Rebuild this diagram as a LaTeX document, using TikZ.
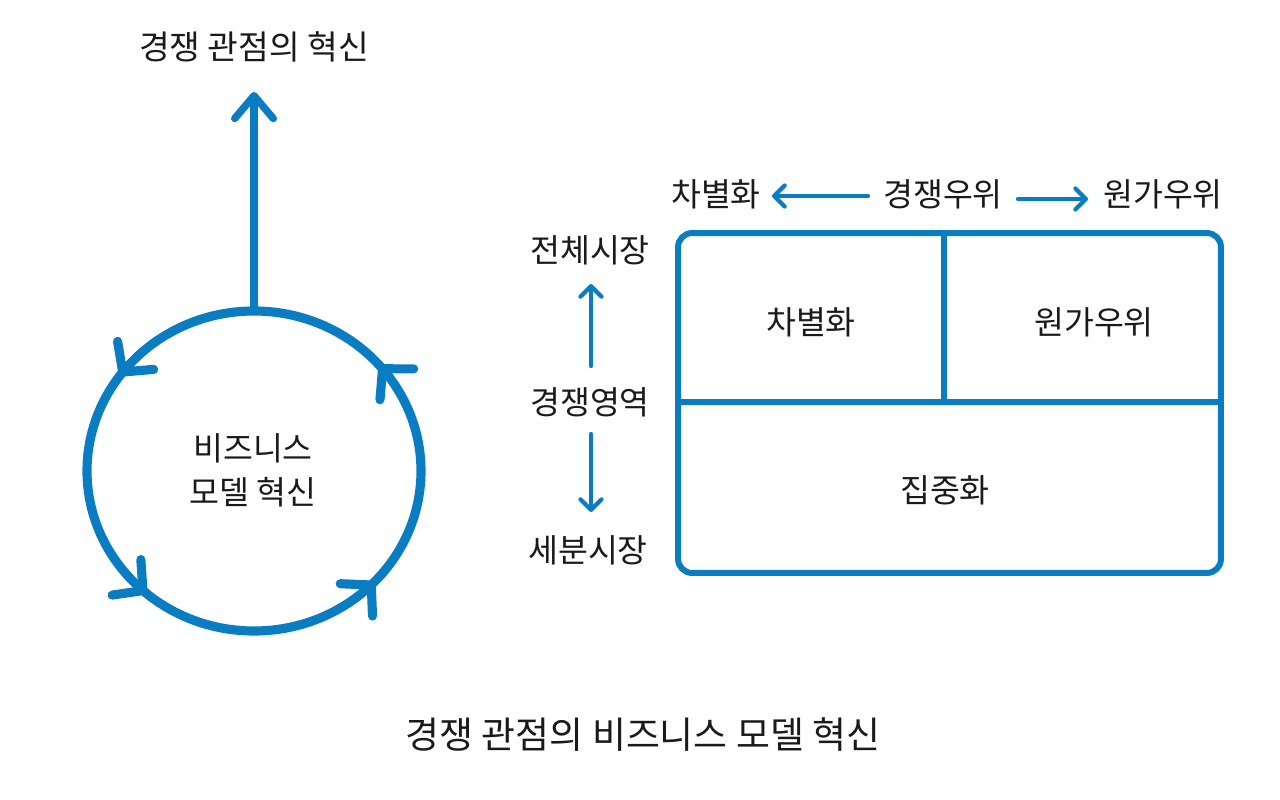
\documentclass[tikz,border=0pt]{standalone}
\usepackage{fontspec}
\setmainfont{Noto Sans CJK KR}
\usetikzlibrary{arrows.meta,decorations.markings}
\definecolor{pen}{HTML}{0A7CC1}
\definecolor{ink}{HTML}{1A1A1A}
\tikzset{
  lbl/.style={text=ink, inner sep=1pt, font=\fontsize{18.5pt}{22pt}\selectfont},
  ttl/.style={text=ink, inner sep=1pt, font=\fontsize{19pt}{22pt}\selectfont},
  captext/.style={text=ink, inner sep=1pt, font=\fontsize{21pt}{24pt}\selectfont},
  bigarrow/.style={draw=pen, line width=4.2pt, line cap=round, line join=round,
    -{Straight Barb[round, length=13pt, width=22pt]}},
  smallarrow/.style={draw=pen, line width=2.4pt, line cap=round, line join=round,
    -{Straight Barb[round, length=6pt, width=12pt]}},
  ring/.style={draw=pen, line width=5.2pt},
  ringtip/.tip={Straight Barb[round, length=12pt, width=26pt]},
  boxline/.style={draw=pen, line width=3.4pt, line cap=round},
}
\begin{document}
\begin{tikzpicture}[x=0.02cm, y=0.02cm]
\useasboundingbox (0,0) rectangle (1280,-800);
% left part
\node[ttl] (title) at (254,-47) {경쟁 관점의 혁신};
\coordinate (cc) at (254,-471);
\coordinate (ctop) at (254,-310);
\coordinate (uptip) at (254,-92);
\draw[bigarrow] (ctop) -- (uptip);
\draw[ring, decoration={markings,
   mark=at position 0.113 with {\arrow{ringtip}},
   mark=at position 0.400 with {\arrow{ringtip}},
   mark=at position 0.637 with {\arrow{ringtip}},
   mark=at position 0.880 with {\arrow{ringtip}}},
   postaction={decorate}] (cc) ellipse [x radius=167, y radius=160];
\node[lbl, align=center] (bm) at (253,-470) {비즈니스\\[3pt]모델 혁신};
% right part
\node[lbl] (diff) at (716,-194) {차별화};
\node[lbl] (adv) at (943,-194) {경쟁우위};
\node[lbl] (cost) at (1163,-194) {원가우위};
\coordinate (la) at (868,-196);
\coordinate (lb) at (772,-196);
\coordinate (ra) at (1018,-199);
\coordinate (rb) at (1088,-199);
\draw[smallarrow] (la) -- (lb);
\draw[smallarrow] (ra) -- (rb);
\node[lbl] (whole) at (590,-250) {전체시장};
\node[lbl] (area) at (590,-402) {경쟁영역};
\node[lbl] (seg) at (588,-550) {세분시장};
\coordinate (ua) at (591,-366);
\coordinate (ub) at (591,-284);
\coordinate (da) at (591,-434);
\coordinate (db) at (591,-512);
\draw[smallarrow] (ua) -- (ub);
\draw[smallarrow] (da) -- (db);
\node[draw=pen, line width=3.4pt, outer sep=0pt, rounded corners=8pt, minimum width=10.86cm, minimum height=6.8cm] (box) at (949.5,-403) {};
\coordinate (dv) at (944,-402);
\draw[boxline] (dv |- box.north) -- (dv);
\draw[boxline] (box.west |- dv) -- (box.east |- dv);
\node[lbl] (c1) at (811,-322) {차별화};
\node[lbl] (c2) at (1094,-322) {원가우위};
\node[lbl] (c3) at (945,-490) {집중화};
% caption
\node[captext] (caption) at (643,-735) {경쟁 관점의 비즈니스 모델 혁신};
\end{tikzpicture}
\end{document}
